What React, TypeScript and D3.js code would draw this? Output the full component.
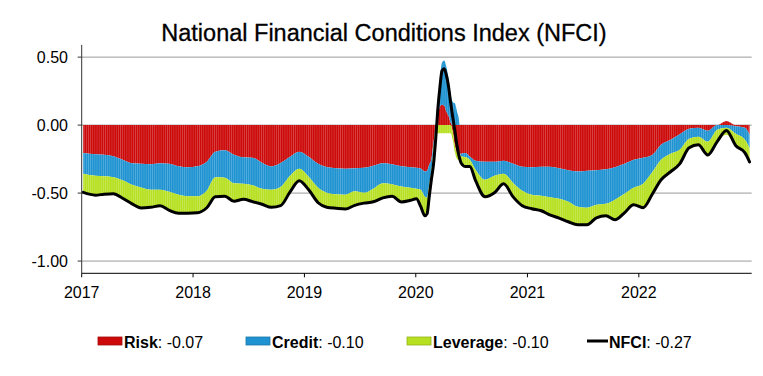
import React from 'react';
import * as d3 from 'd3';

const dates: string[] = [
  '2017-01-06', '2017-02-15', '2017-03-15', '2017-04-15', '2017-05-15', '2017-06-15', '2017-07-15', '2017-08-15', '2017-09-15', '2017-10-15', '2017-11-15', '2017-12-15',
  '2018-01-15', '2018-02-15', '2018-03-15', '2018-04-15', '2018-05-15', '2018-06-15', '2018-07-15', '2018-08-15', '2018-09-15', '2018-10-15', '2018-11-15', '2018-12-15',
  '2019-01-15', '2019-02-15', '2019-03-15', '2019-04-15', '2019-05-15', '2019-06-15', '2019-07-15', '2019-08-15', '2019-09-15', '2019-10-15', '2019-11-15', '2019-12-15',
  '2020-01-03', '2020-01-17', '2020-01-31', '2020-02-07', '2020-02-14', '2020-02-21', '2020-02-28', '2020-03-06', '2020-03-13', '2020-03-20', '2020-03-27',
  '2020-04-03', '2020-04-10', '2020-04-17', '2020-04-24', '2020-05-01', '2020-05-08', '2020-05-15', '2020-05-22', '2020-05-29', '2020-06-12', '2020-06-26',
  '2020-07-15', '2020-08-15', '2020-09-15', '2020-10-15', '2020-11-15', '2020-12-15',
  '2021-01-15', '2021-02-15', '2021-03-15', '2021-04-15', '2021-05-15', '2021-06-15', '2021-07-15', '2021-08-15', '2021-09-15', '2021-10-15', '2021-11-15', '2021-12-15',
  '2022-01-15', '2022-02-15', '2022-03-15', '2022-04-15', '2022-05-15', '2022-06-15', '2022-07-15', '2022-08-15', '2022-09-15', '2022-10-15', '2022-11-15', '2022-12-15', '2022-12-30',
];

const risk: number[] = [
  -0.205, -0.215, -0.218, -0.229, -0.255, -0.281, -0.285, -0.287, -0.281, -0.285, -0.303, -0.310,
  -0.303, -0.270, -0.196, -0.185, -0.218, -0.237, -0.240, -0.277, -0.304, -0.279, -0.233, -0.196,
  -0.233, -0.285, -0.309, -0.318, -0.321, -0.318, -0.314, -0.299, -0.281, -0.288, -0.303, -0.310,
  -0.314, -0.320, -0.341, -0.336, -0.292, -0.255, -0.130, -0.030, 0.060, 0.137, 0.150,
  0.145, 0.100, 0.070, 0.020, -0.050, -0.150, -0.200, -0.210, -0.210, -0.205, -0.230,
  -0.262, -0.270, -0.270, -0.262, -0.285, -0.307,
  -0.310, -0.307, -0.307, -0.318, -0.332, -0.341, -0.336, -0.332, -0.325, -0.310, -0.285, -0.255,
  -0.240, -0.218, -0.145, -0.108, -0.068, -0.027, -0.020, -0.042, 0.000, 0.030, -0.009, -0.020, -0.070,
];

const credit: number[] = [
  -0.152, -0.158, -0.158, -0.154, -0.151, -0.158, -0.173, -0.188, -0.195, -0.206, -0.210, -0.213,
  -0.221, -0.213, -0.188, -0.202, -0.210, -0.195, -0.202, -0.191, -0.171, -0.176, -0.140, -0.125,
  -0.147, -0.176, -0.188, -0.191, -0.191, -0.169, -0.184, -0.169, -0.147, -0.147, -0.149, -0.151,
  -0.154, -0.155, -0.186, -0.199, -0.147, -0.088, -0.051, 0.000, 0.110, 0.200, 0.310,
  0.330, 0.330, 0.280, 0.210, 0.170, 0.160, 0.100, 0.030, -0.020, -0.030, -0.025,
  -0.066, -0.132, -0.103, -0.096, -0.140, -0.176,
  -0.202, -0.213, -0.224, -0.224, -0.232, -0.260, -0.272, -0.254, -0.254, -0.239, -0.220, -0.206,
  -0.191, -0.125, -0.110, -0.103, -0.114, -0.074, -0.066, -0.081, -0.035, -0.020, -0.055, -0.088, -0.100,
];

const leverage: number[] = [
  -0.138, -0.142, -0.132, -0.121, -0.132, -0.140, -0.151, -0.129, -0.118, -0.136, -0.135, -0.125,
  -0.121, -0.125, -0.143, -0.136, -0.132, -0.114, -0.121, -0.114, -0.129, -0.137, -0.118, -0.088,
  -0.096, -0.110, -0.107, -0.103, -0.105, -0.103, -0.076, -0.096, -0.107, -0.088, -0.113, -0.092,
  -0.074, -0.123, -0.140, -0.118, -0.088, -0.059, -0.110, -0.080, -0.060, -0.060, -0.060,
  -0.060, -0.060, -0.060, -0.060, -0.060, -0.050, -0.050, -0.050, -0.050, -0.070, -0.050,
  -0.081, -0.125, -0.125, -0.074, -0.103, -0.110,
  -0.103, -0.110, -0.129, -0.142, -0.147, -0.132, -0.125, -0.096, -0.088, -0.147, -0.140, -0.125,
  -0.176, -0.162, -0.147, -0.132, -0.103, -0.066, -0.059, -0.096, -0.086, -0.050, -0.088, -0.096, -0.100,
];

const seriesKeys = ['risk', 'credit', 'leverage'];
const seriesLabels = ['Risk', 'Credit', 'Leverage'];
const seriesColors = ['#cc0a0a', '#1f93d1', '#b6e021'];
const yTicks = [0.5, 0, -0.5, -1];
const yearTicks = [2017, 2018, 2019, 2020, 2021, 2022];
const titleText = 'National Financial Conditions Index (NFCI)';

const FONT = "'Liberation Sans', Arial, Helvetica, sans-serif";

const locale = d3.formatLocale({
  decimal: '.',
  thousands: ',',
  grouping: [3],
  currency: ['$', ''],
  minus: '-',
});
const fmt2 = locale.format('.2f');

export default function App() {
  const W = 763;
  const H = 376;
  const parse = d3.timeParse('%Y-%m-%d');
  const rows = dates.map((d, i) => ({
    date: parse(d) as Date,
    risk: risk[i],
    credit: credit[i],
    leverage: leverage[i],
    nfci: risk[i] + credit[i] + leverage[i],
  }));

  const x = d3
    .scaleTime()
    .domain([new Date(2017, 0, 1), new Date(2023, 0, 6)])
    .range([81.7, 751.7]);
  const y = d3.scaleLinear().domain([-1.09, 0.59]).range([273.3, 44.9]);

  const left = x.range()[0];
  const right = x.range()[1];
  const top = y(0.59);
  const bottom = y(-1.09);

  const stack = d3
    .stack<any>()
    .keys(seriesKeys)
    .offset(d3.stackOffsetDiverging);
  const stacked = stack(rows);

  const area = d3
    .area<any>()
    .x((d) => x(d.data.date))
    .y0((d) => y(d[0]))
    .y1((d) => y(d[1]))
    .curve(d3.curveMonotoneX);

  const line = d3
    .line<any>()
    .x((d) => x(d.date))
    .y((d) => y(d.nfci))
    .curve(d3.curveMonotoneX);

  const weekPx = x(new Date(2017, 0, 8)) - x(new Date(2017, 0, 1));
  const last = rows[rows.length - 1];
  const legendValues = [last.risk, last.credit, last.leverage, last.nfci].map((v) => fmt2(v));

  const legendPos = [
    { sx: 98, tx: 124 },
    { sx: 246, tx: 272 },
    { sx: 407, tx: 433 },
  ];

  return (
    <div style={{ position: 'absolute', left: 0, top: 0 }}>
      <svg width={W} height={H} style={{ display: 'block', background: '#fff' }} fontFamily={FONT}>
        <defs>
          <clipPath id="plotclip">
            <rect x={left} y={top} width={right - left} height={bottom - top} />
          </clipPath>
          {seriesKeys.map((k, i) => (
            <pattern
              key={k}
              id={`pat-${k}`}
              patternUnits="userSpaceOnUse"
              x={left}
              y={0}
              width={weekPx}
              height={20}
            >
              <rect x={0} y={0} width={weekPx} height={20} fill={seriesColors[i]} />
              <rect x={0} y={0} width={0.6} height={20} fill="#ffffff" opacity={0.28} />
            </pattern>
          ))}
        </defs>

        <text x={384} y={41} textAnchor="middle" fontSize={23.5} fill="#000" stroke="#000" strokeWidth={0.3}>
          {titleText}
        </text>

        {yTicks.map((t) => (
          <g key={t}>
            <line x1={left} x2={right} y1={y(t)} y2={y(t)} stroke="#9a9a9a" strokeWidth={1} />
            <line x1={left - 4} x2={left} y1={y(t)} y2={y(t)} stroke="#333" strokeWidth={1} />
            <text x={68} y={y(t)} dy="0.35em" textAnchor="end" fontSize={16} fill="#000">
              {fmt2(t)}
            </text>
          </g>
        ))}

        <g clipPath="url(#plotclip)">
          {stacked.map((s) => (
            <path key={s.key} d={area(s as any) || ''} fill={`url(#pat-${s.key})`} stroke="none" />
          ))}
          <path
            d={line(rows) || ''}
            fill="none"
            stroke="#000"
            strokeWidth={3}
            strokeLinejoin="round"
            strokeLinecap="round"
          />
        </g>

        <line x1={left} x2={left} y1={top} y2={bottom} stroke="#333" strokeWidth={1} />
        <line x1={left} x2={right} y1={bottom} y2={bottom} stroke="#000" strokeWidth={1} />
        {yearTicks.map((yr) => {
          const xp = x(new Date(yr, 0, 1));
          return (
            <g key={yr}>
              <line x1={xp} x2={xp} y1={bottom} y2={bottom + 4} stroke="#000" strokeWidth={1} />
              <text x={xp} y={298} textAnchor="middle" fontSize={16} fill="#000">
                {yr}
              </text>
            </g>
          );
        })}

        {seriesLabels.map((lab, i) => (
          <g key={lab}>
            <rect
              x={legendPos[i].sx}
              y={337}
              width={24}
              height={8}
              fill={seriesColors[i]}
              stroke={d3.color(seriesColors[i])!.darker(0.6).toString()}
              strokeWidth={0.8}
            />
            <text x={legendPos[i].tx} y={348} fontSize={16} fill="#000">
              <tspan fontWeight="bold">{lab}</tspan>
              <tspan>: {legendValues[i]}</tspan>
            </text>
          </g>
        ))}
        <line x1={587} x2={608} y1={341} y2={341} stroke="#000" strokeWidth={3} />
        <text x={609} y={348} fontSize={16} fill="#000">
          <tspan fontWeight="bold">NFCI</tspan>
          <tspan>: {legendValues[3]}</tspan>
        </text>
      </svg>
    </div>
  );
}
